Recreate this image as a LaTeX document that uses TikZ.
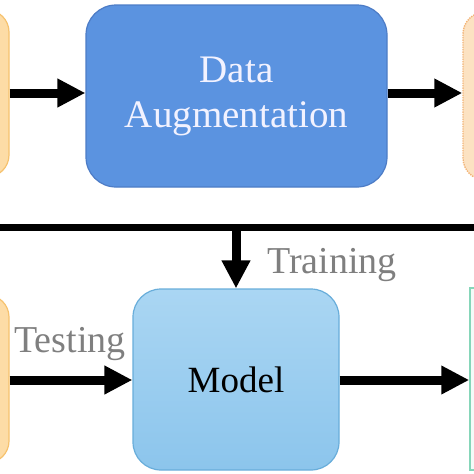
\documentclass[tikz,border=0pt]{standalone}
\usepackage{fontspec}
\setmainfont{Liberation Serif}
\usetikzlibrary{arrows.meta,calc}
\definecolor{augfill}{HTML}{5B93E0}
\definecolor{augdraw}{HTML}{4D7CC6}
\definecolor{modtop}{HTML}{AAD6F3}
\definecolor{modbot}{HTML}{8CC5EC}
\definecolor{moddraw}{HTML}{68ADDA}
\definecolor{orfill}{HTML}{FDDCA6}
\definecolor{ordraw}{HTML}{F6C26E}
\definecolor{orfillb}{HTML}{FCE2C2}
\definecolor{ordrawb}{HTML}{F2B478}
\definecolor{grfill}{HTML}{F4FBF8}
\definecolor{grdraw}{HTML}{86D6B9}
\definecolor{labgrey}{HTML}{7F7F7F}
\tikzset{
  arr/.style={line width=9pt, -{Triangle[length=28pt,width=27pt]}},
  augtxt/.style={font=\fontsize{39}{45}\selectfont},
  labtxt/.style={font=\fontsize{38}{44}\selectfont},
  augbox/.style={rectangle, rounded corners=30pt, fill=augfill, draw=augdraw, line width=1.2pt, text=white!95!blue, align=center, augtxt},
  modbox/.style={rectangle, rounded corners=28pt, top color=modtop, bottom color=modbot, draw=moddraw, line width=1.2pt, text=black, font=\fontsize{37}{44}\selectfont},
  orbox/.style={rectangle, rounded corners=22pt, fill=orfill, draw=ordraw, line width=1.2pt},
  orboxb/.style={rectangle, rounded corners=22pt, fill=orfillb, draw=ordrawb, line width=1.4pt, densely dotted},
  grbox/.style={rectangle, fill=grfill, draw=grdraw, line width=1.5pt},
  lab/.style={text=labgrey, labtxt, inner sep=0pt}
}
\begin{document}
\begin{tikzpicture}[x=1pt,y=-1pt]
\useasboundingbox (0,0) rectangle (474,474);
\clip (0,0) rectangle (474,474);
% boxes
\node[orbox, minimum width=100pt, minimum height=167pt] (tl) at (-41,93.5) {};
\node[augbox, minimum width=301pt, minimum height=182pt] (aug) at (236.5,96) {Data\\Augmentation};
\node[orboxb, minimum width=100pt, minimum height=168pt] (tr) at (513,96) {};
\node[orbox, minimum width=100pt, minimum height=168pt] (bl) at (-41,379) {};
\node[modbox, minimum width=206pt, minimum height=181pt] (model) at (236,379.5) {Model};
\node[grbox, minimum width=100pt, minimum height=182pt] (gr) at (520,379) {};
% labels
\node[lab, anchor=base west] (train) at (267,273) {Training};
\node[lab, anchor=base west] (test) at (14,352) {Testing};
% connectors
\coordinate (hl) at (0,227);
\coordinate (hr) at (474,227);
\coordinate (hm) at (236,227);
\draw[line width=7pt] (hl) -- (hr);
\draw[arr] (tl.east |- 0,93) -- (aug.west |- 0,93);
\draw[arr] (aug.east |- 0,93) -- (tr.west |- 0,93);
\draw[arr] (hm) -- (model.north);
\draw[arr] (bl.east |- 0,380) -- (model.west |- 0,380);
\draw[arr] (model.east |- 0,380) -- (gr.west |- 0,380);
\end{tikzpicture}
\end{document}
